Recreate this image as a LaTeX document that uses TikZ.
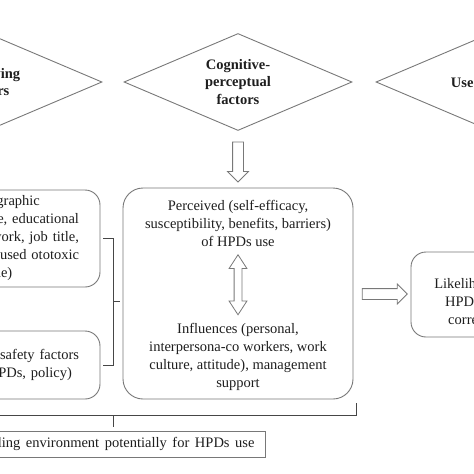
\documentclass[tikz,border=0pt]{standalone}
\usepackage{fontspec}
\setmainfont{Liberation Serif}
\usetikzlibrary{shapes.geometric,shapes.arrows,calc}
\definecolor{boxgray}{RGB}{120,120,120}
\definecolor{bracegray}{RGB}{70,70,70}
\definecolor{textgray}{RGB}{30,30,30}
\tikzset{
  factor/.style={diamond,draw=boxgray,line width=0.9pt,minimum width=228pt,minimum height=97pt,
    shape aspect=2.35,inner sep=0pt,align=center,font=\fontsize{14.5}{17.5}\selectfont\bfseries},
  roundbox/.style={draw=boxgray,line width=0.9pt,rounded corners=15pt},
  hollow/.style={draw=boxgray,line width=0.8pt,inner xsep=0pt},
  bracket/.style={draw=bracegray,line width=1pt}
}

\begin{document}
\begin{tikzpicture}[x=1pt,y=-1pt,every node/.append style={text=textgray,font=\fontsize{14.5}{18}\selectfont}]
\useasboundingbox (0,0) rectangle (474,474);
\clip (0,0) rectangle (474,474);

% Draw the factor diamonds
\node[factor] (modf) at (-12,82) {Modifying\\factors};
\node[factor] (cogf) at (238,82) {Cognitive-\\perceptual\\factors};
\node[factor] (usef) at (490,82) {Use of HPDs};

% Draw the modifying factor boxes
\node[roundbox,minimum width=160pt,minimum height=97pt,text width=118pt,inner xsep=21pt,align=left] (demo) at (20,238.5)
  {Demographic\\
   \hspace*{\fill}\llap{(sex, age, educational}\\
   \hspace*{\fill}\llap{level, years of work, job title,}\\
   \hspace*{\fill}\llap{and used ototoxic}\hspace*{7pt}\\
   \hspace*{3pt}volume)};
\node[roundbox,minimum width=160pt,minimum height=68pt,text width=118pt,inner xsep=21pt,align=left] (org) at (20,365)
  {\hspace*{\fill}\llap{Organizational safety factors}\\
   \hspace*{\fill}\llap{(HPDs, policy)}\hspace*{7pt}};

% Draw the cognitive box
\node[roundbox,rounded corners=20pt,minimum width=230pt,minimum height=211pt] (cogbox) at (238,293.5) {};
\node[align=center] (perc) at (238,223) {Perceived (self-efficacy,\\susceptibility, benefits, barriers)\\of HPDs use};
\node[align=center] (infl) at (238,357) {Influences (personal,\\interpersona-co workers, work\\culture, attitude), management\\support};

% Draw the likelihood box
\node[roundbox,minimum width=126pt,minimum height=85pt] (likbox) at (474,294.5) {};
\node[align=center] (likt) at (474,302.5) {Likelihood of\\HPDs use\\correctly};

% Draw the environment box
\node[draw=boxgray,line width=0.9pt,anchor=east,minimum height=26pt,text width=300pt,align=right,inner xsep=11pt] (env) at (266,444)
  {\spaceskip=5.6pt Enabling environment potentially for HPDs use};

% Hollow arrows
\node[hollow,single arrow,rotate=-90,minimum height=40pt,single arrow head extend=5pt,inner ysep=5pt]
  (down) at ($(cogf.south)!0.5!(cogbox.north)$) {};
\node[hollow,double arrow,rotate=90,minimum height=60pt,double arrow head extend=5pt,inner ysep=3.5pt,double arrow tip angle=66]
  (link) at ($(perc.south)!0.5!(infl.north)$) {};
\node[hollow,single arrow,minimum height=45pt,single arrow head extend=4.5pt,inner ysep=5pt]
  (right) at ($(cogbox.east)!0.5!(likbox.west)$) {};

% Brackets
\draw[bracket] ($(demo.east)+(3,0)$) -- ++(10,0) |- ($(org.east)+(3,0)$);
\draw[bracket] ($(demo.east)!0.5!(org.east)+(13,0)$) -- ++(7,0);
\coordinate (braceR) at ($(cogbox.south east)+(3,4)$);
\coordinate (braceM) at ($(braceR)+(-243,12)$);
\draw[bracket] (braceR) -- ++(0,12) -- ++(-440,0) -- ++(0,-12);
\draw[bracket,shorten >=4pt] (braceM) -- (braceM |- env.north);

\end{tikzpicture}
\end{document}
